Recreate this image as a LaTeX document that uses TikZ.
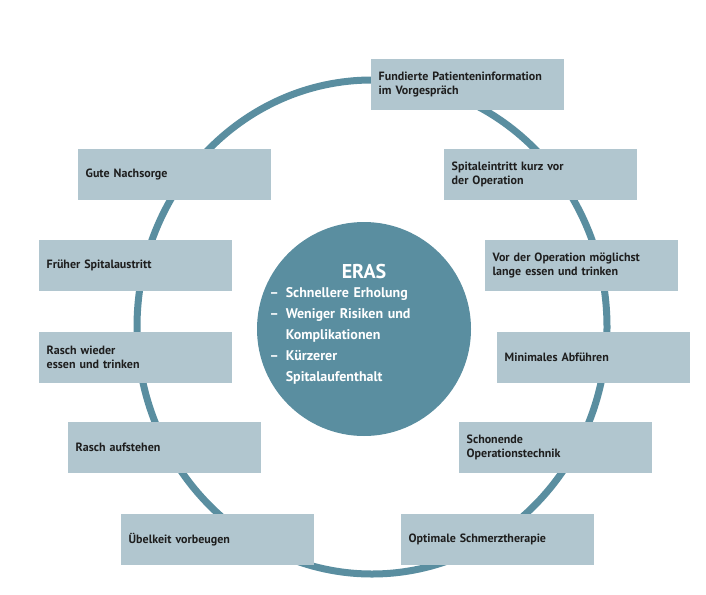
\documentclass[tikz,border=0pt]{standalone}
\usepackage{fontspec}
\setmainfont{PT Sans}
\usetikzlibrary{positioning}
\definecolor{ringblue}{RGB}{90,142,160}
\definecolor{boxbg}{RGB}{177,198,207}
\definecolor{boxtext}{RGB}{30,30,30}

\begin{document}
\begin{tikzpicture}[x=1pt, y=-1pt,
  measure/.style={
    rectangle, fill=boxbg, minimum width=193pt, minimum height=51pt,
    text width=178pt, align=left, inner xsep=7pt, anchor=north west,
    font=\fontsize{12}{14}\selectfont\bfseries, text=boxtext
  },
  core/.style={
    circle, fill=ringblue, minimum size=214pt, inner sep=0pt
  }
]
\useasboundingbox (0,0) rectangle (706,594);

% outer cycle
\draw[ringblue, line width=7pt] (372,327) ellipse [x radius=235, y radius=247];

% centre
\node[core] (eras) at (364,329) {};
\node[text=white, font=\fontsize{20}{22}\selectfont\bfseries] (title) at (364,271) {ERAS};
\node[text=white, anchor=north west, align=left, text width=170pt,
  font=\fontsize{14}{21}\selectfont\bfseries] (goals) at (266,284) {
  --\enspace Schnellere Erholung\\
  --\enspace Weniger Risiken und\\
  \phantom{--\enspace}Komplikationen\\
  --\enspace Kürzerer\\
  \phantom{--\enspace}Spitalaufenthalt
};

% measures, right side
\node[measure] (info) at (371,59) {Fundierte Patienteninformation\\im Vorgespräch};
\node[measure] (entry) at (444,149) {Spitaleintritt kurz vor\\der Operation};
\node[measure] (fasting) at (485,240) {Vor der Operation möglichst\\lange essen und trinken};
\node[measure] (bowel) at (497,332) {Minimales Abführen};
\node[measure] (surgery) at (459,422) {Schonende\\Operationstechnik};
\node[measure] (pain) at (401,514) {Optimale Schmerztherapie};

% measures, left side
\node[measure] (nausea) at (121,514) {Übelkeit vorbeugen};
\node[measure] (mobil) at (68,422) {Rasch aufstehen};
\node[measure] (eating) at (39,332) {Rasch wieder\\essen und trinken};
\node[measure] (discharge) at (39,240) {Früher Spitalaustritt};
\node[measure] (aftercare) at (78,149) {Gute Nachsorge};

\end{tikzpicture}
\end{document}
